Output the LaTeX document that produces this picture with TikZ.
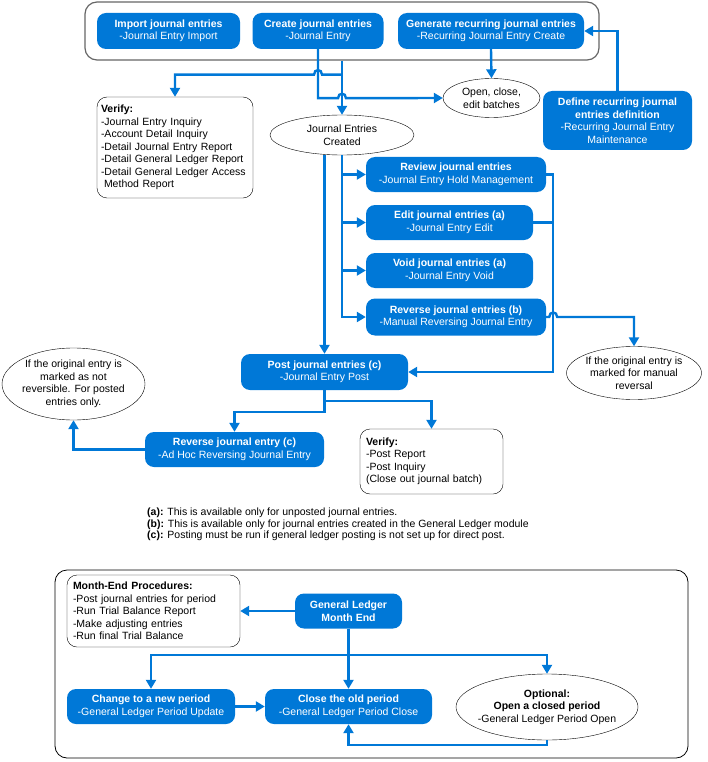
\documentclass[tikz,border=0pt]{standalone}
\usepackage{fontspec}
\setmainfont{Liberation Sans}
\usetikzlibrary{shapes.geometric,arrows.meta}
\definecolor{gblue}{RGB}{0,120,215}
\begin{document}
\begin{tikzpicture}[x=1pt,y=-1pt,
        taskbox/.style={fill=gblue, text=white, rounded corners=9pt, align=center, inner sep=2pt,
            font=\fontsize{10.5}{12.5}\selectfont},
        notebox/.style={draw, rounded corners=10pt, align=left, inner xsep=6pt, inner ysep=3pt,
            font=\fontsize{10.5}{12.5}\selectfont},
        oval/.style={draw, ellipse, align=center, inner sep=-6pt, font=\fontsize{10.5}{12.5}\selectfont},
        frame/.style={draw=black!60, line width=1.2pt, rounded corners=12pt},
        link/.style={draw=gblue, line width=2.4pt},
        flow/.style={link, -{Triangle[length=9pt,width=10pt]}}]
    \useasboundingbox (0,0) rectangle (708,762);
    % journal entries
    \node[frame, minimum width=514, minimum height=58] (topframe) at (342,31) {};
    \node[taskbox, minimum width=143, minimum height=36] (import) at (168.5,31) {\textbf{Import journal entries}\\-Journal Entry Import};
    \node[taskbox, minimum width=131, minimum height=36] (create) at (318,31) {\textbf{Create journal entries}\\-Journal Entry};
    \node[taskbox, minimum width=186, minimum height=36] (generate) at (491,31) {\textbf{Generate recurring journal entries}\\-Recurring Journal Entry Create};
    \node[taskbox, minimum width=149, minimum height=59] (define) at (617.5,120.5) {\textbf{Define recurring journal}\\\textbf{entries definition}\\-Recurring Journal Entry\\Maintenance};
    \node[oval, minimum width=97, minimum height=39] (open) at (491.5,98) {Open, close,\\edit batches};
    \node[notebox, inner xsep=4pt, text width=148, minimum height=101] (verify1) at (175,147.5) {\textbf{Verify:}\\-Journal Entry Inquiry\\-Account Detail Inquiry\\-Detail Journal Entry Report\\-Detail General Ledger Report\\\mbox{-Detail General Ledger Access}\\\hspace*{3pt}Method Report};
    \node[oval, minimum width=144, minimum height=40] (jec) at (342,135) {Journal Entries\\Created};
    \node[taskbox, minimum width=180, minimum height=35] (review) at (456,174.5) {\textbf{Review journal entries}\\-Journal Entry Hold Management};
    \node[taskbox, minimum width=167, minimum height=35] (edit) at (449.5,222.5) {\textbf{Edit journal entries (a)}\\-Journal Entry Edit};
    \node[taskbox, minimum width=167, minimum height=35] (void) at (449.5,270.5) {\textbf{Void journal entries (a)}\\-Journal Entry Void};
    \node[taskbox, minimum width=180, minimum height=37] (reverse) at (456,317) {\textbf{Reverse journal entries (b)}\\-Manual Reversing Journal Entry};
    \node[taskbox, minimum width=167, minimum height=36] (post) at (324.5,372) {\textbf{Post journal entries (c)}\\-Journal Entry Post};
    \node[oval, minimum width=135, minimum height=53] (manual) at (634,373) {If the original entry is\\marked for manual\\reversal};
    \node[taskbox, minimum width=179, minimum height=35] (revc) at (234.5,449.5) {\textbf{Reverse journal entry (c)}\\-Ad Hoc Reversing Journal Entry};
    \node[oval, minimum width=143, minimum height=72] (notrev) at (73.5,384) {If the original entry is\\marked as not\\reversible. For posted\\entries only.};
    \node[notebox, text width=131, minimum height=65] (verify2) at (431.5,461.5) {\textbf{Verify:}\\-Post Report\\-Post Inquiry\\(Close out journal batch)};
    \node[anchor=north west, align=left, inner sep=0pt, font=\fontsize{10.5}{11.5}\selectfont] (notes) at (147,508)
        {\textbf{(a):} This is available only for unposted journal entries.\\
         \textbf{(b):} This is available only for journal entries created in the General Ledger module\\
         \textbf{(c):} Posting must be run if general ledger posting is not set up for direct post.};
    \draw[flow] (define.north) |- (generate.east);
    \draw[flow] (generate.south) -- (open.north);
    \draw[flow] (create.south) -- ++(0,49) -- ++(20,0) .. controls +(0,-6) and +(0,-6) .. ++(8,0) -- (open.west);
    \draw[flow] (topframe.south) -- (jec.north);
    \draw[flow] (topframe.south) ++(0,14) -- ++(-20,0) .. controls +(0,-6) and +(0,-6) .. ++(-8,0) -| (verify1.north);
    \draw[flow] (post.north |- jec.south) -- (post.north);
    \foreach \task in {review,edit,void,reverse}
        \draw[flow] (jec.south) |- (\task.west);
    \draw[flow] (review.east) -- ++(7,0) |- (post.east);
    \draw[link] (edit.east) -- ++(20,0);
    \draw[flow] (reverse.east) -- ++(3,0) .. controls +(0,-6) and +(0,-6) .. ++(8,0) -| (manual.north);
    \draw[flow] (post.south) -- ++(0,22) -| (revc.north);
    \draw[flow] (post.south) -- ++(0,11) -| (verify2.north);
    \draw[flow] (revc.west) -| (notrev.south);
    % month end
    \node[frame, draw=black, line width=0.8pt, minimum width=633, minimum height=188] (endframe) at (371.5,664) {};
    \node[notebox, text width=161, minimum height=72] (month) at (153.5,611) {\textbf{Month-End Procedures:}\\-Post journal entries for period\\-Run Trial Balance Report\\-Make adjusting entries\\-Run final Trial Balance};
    \node[taskbox, minimum width=107, minimum height=35] (glend) at (348.5,611) {\textbf{General Ledger}\\\textbf{Month End}};
    \node[taskbox, minimum width=168, minimum height=35] (change) at (151,706.5) {\textbf{Change to a new period}\\-General Ledger Period Update};
    \node[taskbox, minimum width=167, minimum height=35] (close) at (348.5,706.5) {\textbf{Close the old period}\\-General Ledger Period Close};
    \node[oval, minimum width=182, minimum height=66] (optional) at (547,707) {\textbf{Optional:}\\\textbf{Open a closed period}\\-General Ledger Period Open};
    \draw[flow] (glend.west) -- (month.east);
    \draw[flow] (glend.south) -- (close.north);
    \draw[flow] (glend.south) -- ++(0,26) -| (change.north);
    \draw[flow] (glend.south) -- ++(0,26) -| (optional.north);
    \draw[flow] (change.east) -- (close.west);
    \draw[flow] (optional.south) -- ++(0,5) -| (close.south);
\end{tikzpicture}
\end{document}
